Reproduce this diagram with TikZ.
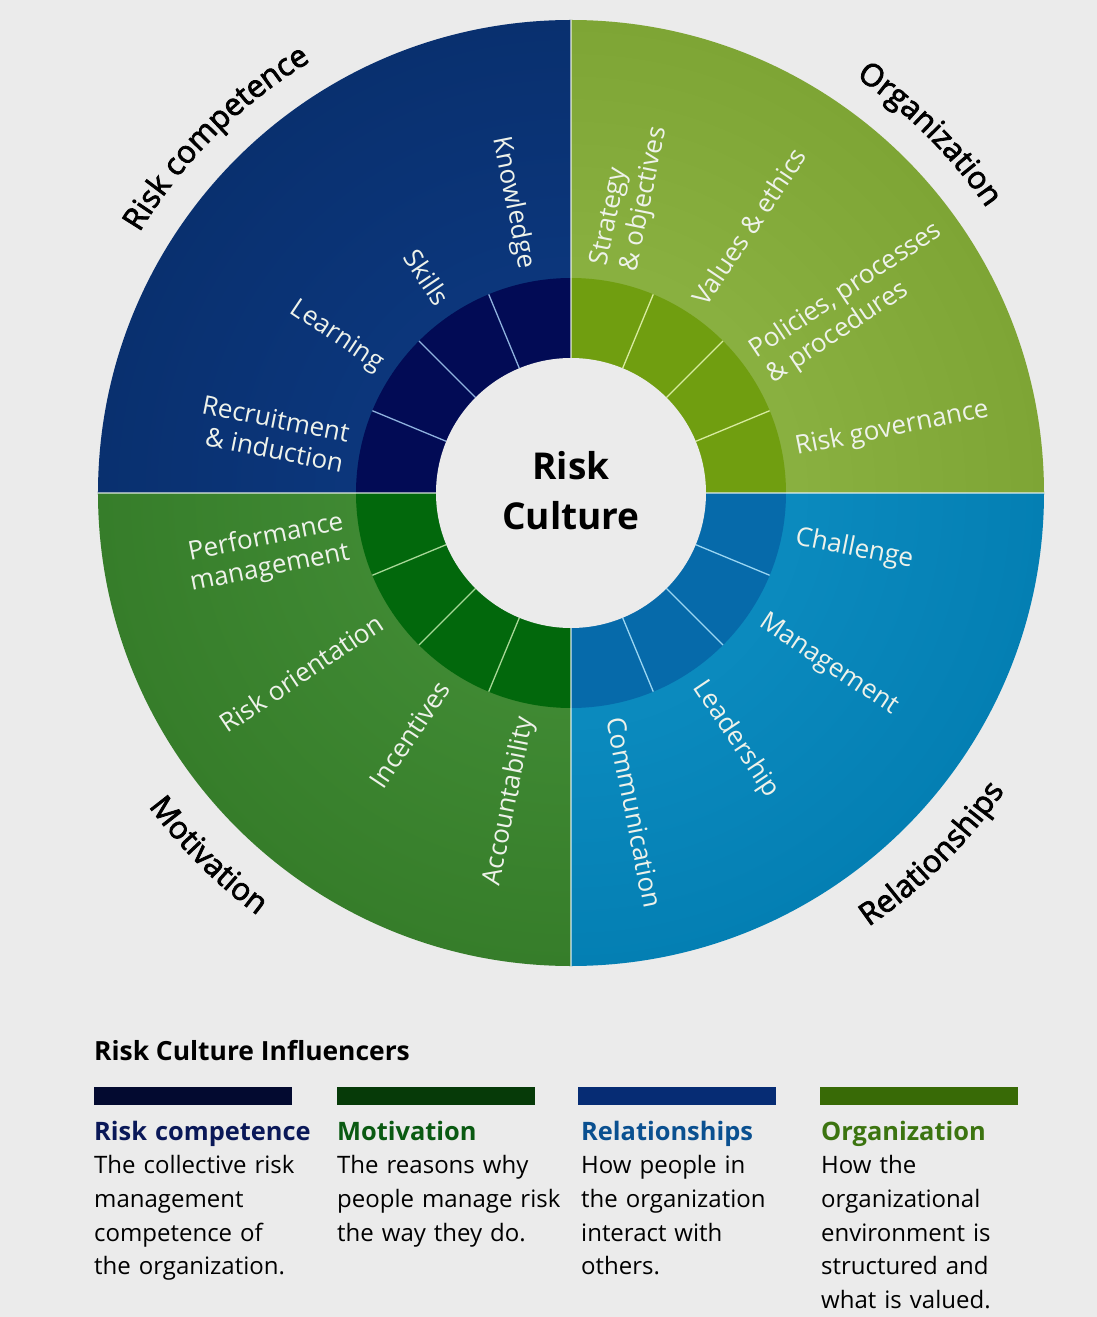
\documentclass[tikz,border=0pt]{standalone}
\usepackage{fontspec}
\setmainfont{Open Sans}
\newfontfamily\catfam{Open Sans}[FakeBold=2.5]
\usetikzlibrary{decorations.text}
\definecolor{bg}{HTML}{EBEBEB}
\definecolor{tloutA}{HTML}{0E3C86}
\definecolor{tloutB}{HTML}{09306F}
\definecolor{tlin}{HTML}{020B55}
\definecolor{troutA}{HTML}{93BA4A}
\definecolor{troutB}{HTML}{7EA535}
\definecolor{trin}{HTML}{709E10}
\definecolor{bloutA}{HTML}{47933A}
\definecolor{bloutB}{HTML}{367D2A}
\definecolor{blin}{HTML}{02680C}
\definecolor{broutA}{HTML}{1194C8}
\definecolor{broutB}{HTML}{047FB3}
\definecolor{brin}{HTML}{066AAA}
\definecolor{divtl}{HTML}{8FB2DE}
\definecolor{divtr}{HTML}{D8EBA0}
\definecolor{divbl}{HTML}{A8D898}
\definecolor{divbr}{HTML}{9AD6F2}
\definecolor{labtxt}{HTML}{EEF2EA}
\definecolor{barA}{HTML}{030A30}
\definecolor{barB}{HTML}{063A08}
\definecolor{barC}{HTML}{062C74}
\definecolor{barD}{HTML}{386A06}
\definecolor{headA}{HTML}{0A1858}
\definecolor{headB}{HTML}{0A5A12}
\definecolor{headC}{HTML}{0A5090}
\definecolor{headD}{HTML}{3C7410}
\newcommand\catfont{\catfam\fontsize{31}{31}\selectfont}
\newcommand\labfont{\fontsize{26}{30.5}\selectfont}
\begin{document}
\begin{tikzpicture}[x=1pt,y=1pt,
  labout/.style={font=\labfont, text=labtxt, inner sep=0pt, anchor=west, align=left},
  labin/.style={font=\labfont, text=labtxt, inner sep=0pt, anchor=east, align=right},
  divline/.style={line width=1.3pt},
  sepline/.style={line width=1.6pt, white, opacity=0.55},
  legbar/.style={minimum width=198pt, minimum height=18pt, inner sep=0pt, anchor=north west},
  legtext/.style={font=\fontsize{24}{33.7}\selectfont, text width=300pt, align=left, inner sep=0pt, anchor=base west},
  catdeco/.style={decorate, decoration={text along path, text align=center, text={|\catfont|#1}}},
  centertext/.style={font=\fontsize{37}{37}\selectfont\bfseries, anchor=base, inner sep=0pt}]
\fill[bg] (-571,-824) rectangle (526,493);
\useasboundingbox (-571,-824) rectangle (526,493);
% outer ring (radial shading clipped to each quadrant)
\begin{scope}
  \clip (0,0) -- (90:473) arc[start angle=90,end angle=180,radius=473] -- cycle;
  \shade[inner color=tloutA, outer color=tloutB] (0,0) circle[radius=473];
\end{scope}
\begin{scope}
  \clip (0,0) -- (0:473) arc[start angle=0,end angle=90,radius=473] -- cycle;
  \shade[inner color=troutA, outer color=troutB] (0,0) circle[radius=473];
\end{scope}
\begin{scope}
  \clip (0,0) -- (180:473) arc[start angle=180,end angle=270,radius=473] -- cycle;
  \shade[inner color=bloutA, outer color=bloutB] (0,0) circle[radius=473];
\end{scope}
\begin{scope}
  \clip (0,0) -- (270:473) arc[start angle=270,end angle=360,radius=473] -- cycle;
  \shade[inner color=broutA, outer color=broutB] (0,0) circle[radius=473];
\end{scope}
% inner ring
\fill[tlin] (0,0) -- (90:215) arc[start angle=90,end angle=180,radius=215] -- cycle;
\fill[trin] (0,0) -- (0:215) arc[start angle=0,end angle=90,radius=215] -- cycle;
\fill[blin] (0,0) -- (180:215) arc[start angle=180,end angle=270,radius=215] -- cycle;
\fill[brin] (0,0) -- (270:215) arc[start angle=270,end angle=360,radius=215] -- cycle;
% dividers
\foreach \a in {112.5,135,157.5} \draw[divline,divtl] (\a:135) -- (\a:215);
\foreach \a in {22.5,45,67.5} \draw[divline,divtr] (\a:135) -- (\a:215);
\foreach \a in {202.5,225,247.5} \draw[divline,divbl] (\a:135) -- (\a:215);
\foreach \a in {292.5,315,337.5} \draw[divline,divbr] (\a:135) -- (\a:215);
\draw[sepline] (0,135) -- (0,473);
\draw[sepline] (0,-135) -- (0,-473);
\draw[sepline] (135,0) -- (473,0);
\draw[sepline] (-135,0) -- (-473,0);
% centre
\fill[bg] (0,0) circle[radius=135];
\node[centertext] (risk) at (0,13) {Risk};
\node[centertext] (culture) at (0,-36) {Culture};
% segment labels
\node[labin, rotate=-78.75] (knowledge) at (101.25:229) {Knowledge};
\node[labin, rotate=-56.25] (skills) at (123.75:229) {Skills};
\node[labin, rotate=-33.75] (learning) at (146.25:229) {Learning};
\node[labin, rotate=-11.25] (recruit) at (168.75:229) {Recruitment\\\& induction};
\node[labout, rotate=78.75] (strategy) at (78.75:229) {Strategy\\\& objectives};
\node[labout, rotate=56.25] (values) at (56.25:229) {Values \& ethics};
\node[labout, rotate=33.75] (policies) at (33.75:229) {Policies, processes\\\& procedures};
\node[labout, rotate=11.25] (governance) at (11.25:229) {Risk governance};
\node[labout, rotate=-11.25] (challenge) at (-11.25:229) {Challenge};
\node[labout, rotate=-33.75] (management) at (-33.75:229) {Management};
\node[labout, rotate=-56.25] (leadership) at (-56.25:229) {Leadership};
\node[labout, rotate=-78.75] (communication) at (-78.75:229) {Communication};
\node[labin, rotate=11.25] (performance) at (191.25:229) {Performance\\management};
\node[labin, rotate=33.75] (orientation) at (213.75:229) {Risk orientation};
\node[labin, rotate=56.25] (incentives) at (236.25:229) {Incentives};
\node[labin, rotate=78.75] (accountability) at (258.75:229) {Accountability};
% category labels
\path[catdeco={Risk competence}] (165:504) arc[start angle=165,end angle=105,radius=504];
\path[catdeco={Organization}] (75:504) arc[start angle=75,end angle=15,radius=504];
\path[catdeco={Motivation}] (195:526) arc[start angle=195,end angle=255,radius=526];
\path[catdeco={Relationships}] (285:526) arc[start angle=285,end angle=345,radius=526];
% legend
\node[font=\fontsize{26.4}{26.4}\selectfont\bfseries, anchor=base west, inner sep=0pt] (legtitle) at (-477,-567) {Risk Culture Influencers};
\node[legbar, fill=barA] (barA) at (-477,-594) {};
\node[legbar, fill=barB] (barB) at (-234,-594) {};
\node[legbar, fill=barC] (barC) at (7,-594) {};
\node[legbar, fill=barD] (barD) at (249,-594) {};
\node[legtext] (colA) at (-477,-647) {{\fontsize{25.4}{33.7}\selectfont\bfseries\color{headA}Risk competence}\\The collective risk\\management\\competence of\\the organization.};
\node[legtext] (colB) at (-234,-647) {{\fontsize{25.4}{33.7}\selectfont\bfseries\color{headB}Motivation}\\The reasons why\\people manage risk\\the way they do.};
\node[legtext] (colC) at (10,-647) {{\fontsize{25.4}{33.7}\selectfont\bfseries\color{headC}Relationships}\\How people in\\the organization\\interact with\\others.};
\node[legtext] (colD) at (250,-647) {{\fontsize{25.4}{33.7}\selectfont\bfseries\color{headD}Organization}\\How the\\organizational\\environment is\\structured and\\what is valued.};
\end{tikzpicture}
\end{document}
